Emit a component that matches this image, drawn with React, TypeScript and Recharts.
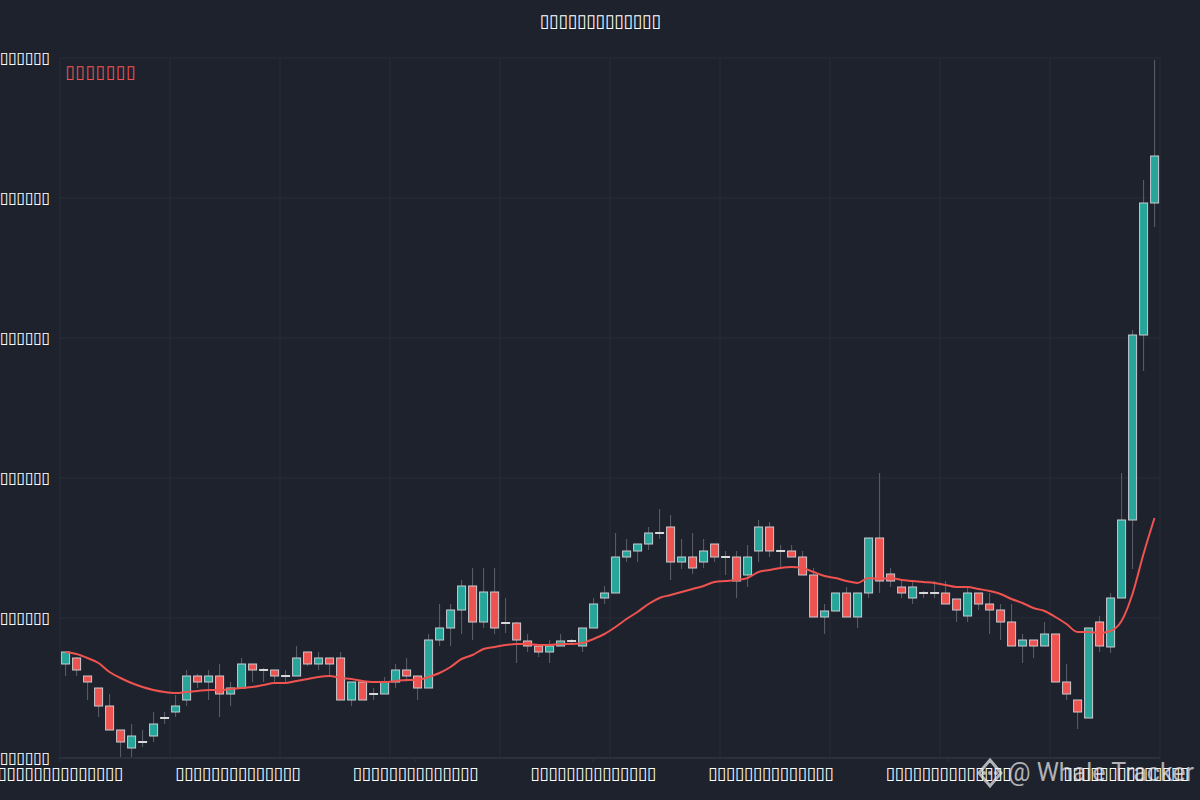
import React from "react";
import {
  ComposedChart,
  Bar,
  Line,
  XAxis,
  YAxis,
  CartesianGrid,
} from "recharts";

// ---- data ----
const opens = [
  94, 100, 82, 70, 52, 28, 10, 16, 22, 40,
  46, 58, 82, 76, 82, 64, 70, 94, 88, 88,
  82, 82, 106, 94, 100, 100, 58, 76, 64, 64,
  76, 88, 82, 70, 118, 130, 148, 172, 136, 166,
  135, 135, 117, 112, 106, 112, 117, 112, 130, 160,
  165, 201, 207, 214, 225, 231, 196, 201, 196, 214,
  201, 201, 183, 207, 231, 207, 207, 201, 183, 141,
  147, 165, 141, 165, 220, 184, 171, 160, 165, 165,
  165, 159, 142, 165, 154, 148, 136, 112, 118, 112,
  124, 76, 58, 40, 136, 111, 160, 238, 423, 555,
];
const highs = [
  106, 101, 82, 70, 64, 28, 34, 28, 46, 46,
  63, 88, 84, 88, 94, 76, 100, 94, 90, 88,
  88, 112, 106, 106, 100, 106, 76, 76, 70, 81,
  94, 100, 82, 124, 154, 154, 178, 190, 190, 190,
  160, 136, 124, 112, 118, 124, 119, 130, 160, 172,
  225, 219, 214, 231, 249, 243, 219, 225, 219, 214,
  207, 207, 213, 238, 236, 213, 213, 207, 190, 154,
  165, 171, 165, 220, 285, 190, 177, 177, 167, 177,
  177, 159, 171, 165, 165, 154, 154, 124, 118, 136,
  124, 94, 58, 130, 142, 165, 285, 428, 578, 698,
];
const lows = [
  82, 82, 58, 41, 28, 1, 1, 11, 16, 34,
  41, 52, 70, 58, 41, 52, 70, 76, 76, 76,
  76, 82, 92, 88, 82, 58, 52, 58, 58, 64,
  70, 76, 58, 70, 112, 112, 124, 118, 130, 124,
  125, 95, 106, 101, 95, 112, 115, 106, 130, 154,
  165, 196, 196, 208, 219, 178, 189, 184, 190, 196,
  183, 160, 171, 196, 201, 190, 201, 183, 141, 124,
  147, 141, 130, 160, 165, 171, 160, 154, 160, 160,
  154, 136, 136, 148, 124, 118, 112, 95, 100, 112,
  76, 58, 29, 40, 106, 105, 160, 189, 387, 531,
];
const closes = [
  106, 88, 76, 52, 28, 16, 22, 16, 34, 40,
  52, 82, 76, 82, 64, 70, 94, 88, 88, 82,
  82, 100, 94, 100, 94, 58, 76, 58, 64, 76,
  88, 82, 70, 118, 130, 148, 172, 136, 166, 130,
  135, 118, 112, 106, 112, 117, 117, 130, 154, 165,
  201, 207, 214, 225, 225, 196, 201, 190, 207, 201,
  201, 177, 201, 231, 207, 207, 201, 183, 141, 147,
  165, 141, 165, 220, 177, 177, 165, 171, 165, 165,
  154, 148, 165, 154, 148, 136, 112, 118, 112, 124,
  76, 64, 46, 130, 112, 160, 238, 423, 555, 602,
];
const maValues = [
  106, 104, 100, 95, 86, 80, 75, 71, 68, 66,
  65, 66, 67, 68, 68, 69, 70, 71, 73, 75,
  75, 77, 79, 81, 82, 80, 79, 77, 76, 76,
  77, 78, 78, 81, 85, 91, 99, 103, 109, 111,
  113, 114, 114, 113, 113, 114, 114, 115, 119, 124,
  131, 139, 146, 154, 160, 163, 166, 169, 172, 176,
  177, 178, 180, 186, 188, 190, 191, 190, 186, 182,
  180, 177, 175, 180, 179, 180, 178, 177, 176, 175,
  173, 171, 171, 169, 167, 164, 159, 155, 150, 147,
  141, 134, 126, 126, 125, 127, 137, 164, 204, 240,
];

const yTicks = [0, 140, 280, 420, 560, 700];
const gridXTicks = [0, 10, 20, 30, 40, 50, 60, 70, 80, 90, 100];
const labelXTicks = [0, 16.15, 32.3, 48.45, 64.6, 80.75, 96.9];

const titleText = "▯▯▯▯▯▯▯▯▯▯▯▯▯";
const legendText = "▯▯▯▯▯▯▯";
const yLabelText = "▯▯▯▯▯▯";
const xLabelText = "▯▯▯▯▯▯▯▯▯▯▯▯▯▯";

const data = opens.map((o, i) => ({
  idx: i,
  pos: i + 0.5,
  open: o,
  high: highs[i],
  low: lows[i],
  close: closes[i],
  ma: maValues[i],
}));

const UP = "#26a69a";
const DOWN = "#ef5350";
const BG = "#1e222d";
const GRID = "#292d39";

const Candle = (props: any) => {
  const { x, y, width, height, payload } = props;
  const { open, close, high, low } = payload;
  const span = high - low;
  const ratio = span > 0 ? height / span : 0;
  const cx = x + width / 2;
  const top = y + (high - Math.max(open, close)) * ratio;
  const bot = y + (high - Math.min(open, close)) * ratio;
  const isDoji = open === close;
  const color = close > open ? UP : DOWN;
  return (
    <g>
      <line x1={cx} x2={cx} y1={y} y2={y + height} stroke="#5d616c" strokeWidth={1} />
      {isDoji ? (
        <line x1={x} x2={x + width} y1={top} y2={top} stroke="#d8d8d8" strokeWidth={2} />
      ) : (
        <rect
          x={x + 0.5}
          y={top}
          width={width - 1}
          height={Math.max(bot - top, 1)}
          fill={color}
          stroke="#c9cbd0"
          strokeWidth={1}
        />
      )}
    </g>
  );
};

const YTick = (props: any) => {
  const { y } = props;
  return (
    <text
      x={0}
      y={y - 1}
      fill="#ffffff"
      fontSize={16}
      letterSpacing={-0.5}
      textAnchor="start"
      dominantBaseline="central"
    >
      {yLabelText}
    </text>
  );
};

const XTick = (props: any) => {
  const { x, y } = props;
  return (
    <text
      x={x}
      y={y + 9}
      fill="#ffffff"
      fontSize={17}
      letterSpacing={-0.4}
      textAnchor="middle"
      dominantBaseline="central"
    >
      {xLabelText}
    </text>
  );
};

export default function App() {
  return (
    <div
      style={{
        position: "absolute",
        left: 0,
        top: 0,
        width: 1200,
        height: 800,
        background: BG,
        fontFamily: "'DejaVu Sans', sans-serif",
        overflow: "hidden",
      }}
    >
      <div
        style={{
          position: "absolute",
          left: 0,
          top: 9,
          width: 1200,
          textAlign: "center",
          color: "#ffffff",
          fontSize: 18,
          letterSpacing: -0.6,
          lineHeight: "24px",
          whiteSpace: "nowrap",
        }}
      >
        {titleText}
      </div>
      <ComposedChart
        width={1200}
        height={800}
        data={data}
        margin={{ top: 58, right: 40, bottom: 12, left: 0 }}
      >
        <CartesianGrid stroke={GRID} strokeWidth={1} xAxisId="grid" vertical horizontal />
        <XAxis
          xAxisId="lbl"
          dataKey="pos"
          type="number"
          domain={[0, 100]}
          ticks={labelXTicks}
          allowDataOverflow
          interval={0}
          height={30}
          axisLine={{ stroke: "#2c303c", strokeWidth: 2 }}
          tickLine={{ stroke: "#2c303c" }}
          tickSize={4}
          tick={<XTick />}
        />
        <XAxis xAxisId="cat" dataKey="idx" type="category" hide height={0} />
        <XAxis
          xAxisId="grid"
          dataKey="pos"
          type="number"
          domain={[0, 100]}
          ticks={gridXTicks}
          allowDataOverflow
          hide
          height={0}
        />
        <YAxis
          domain={[0, 700]}
          ticks={yTicks}
          interval={0}
          width={60}
          axisLine={false}
          tickLine={false}
          tick={<YTick />}
          allowDataOverflow
        />
        <Bar
          xAxisId="cat"
          dataKey={(d: any) => [d.low, d.high]}
          barCategoryGap={1}
          shape={<Candle />}
          isAnimationActive={false}
        />
        <Line
          xAxisId="cat"
          dataKey="ma"
          type="monotone"
          stroke={DOWN}
          strokeWidth={2}
          dot={false}
          activeDot={false}
          isAnimationActive={false}
        />
      </ComposedChart>
      <div
        style={{
          position: "absolute",
          left: 65,
          top: 60,
          color: DOWN,
          fontSize: 18,
          letterSpacing: 0.2,
          lineHeight: "24px",
          whiteSpace: "nowrap",
        }}
      >
        {legendText}
      </div>
      <div
        style={{
          position: "absolute",
          left: 976,
          top: 757,
          display: "flex",
          alignItems: "center",
          color: "rgba(235,235,235,0.72)",
          fontFamily: "Roboto, 'DejaVu Sans', sans-serif",
          fontSize: 25,
          lineHeight: "32px",
          whiteSpace: "nowrap",
          pointerEvents: "none",
        }}
      >
        <svg width={28} height={32} viewBox="0 0 28 32">
          <polygon points="14,3 25,16 14,29 3,16" fill="none" stroke="rgba(235,235,235,0.72)" strokeWidth={3} />
          <circle cx={8} cy={16} r={2} fill="rgba(235,235,235,0.72)" />
          <circle cx={14} cy={16} r={2} fill="rgba(235,235,235,0.72)" />
          <circle cx={20} cy={16} r={2} fill="rgba(235,235,235,0.72)" />
        </svg>
        <span style={{ marginLeft: 4 }}>@ Whale Tracker</span>
      </div>
    </div>
  );
}
